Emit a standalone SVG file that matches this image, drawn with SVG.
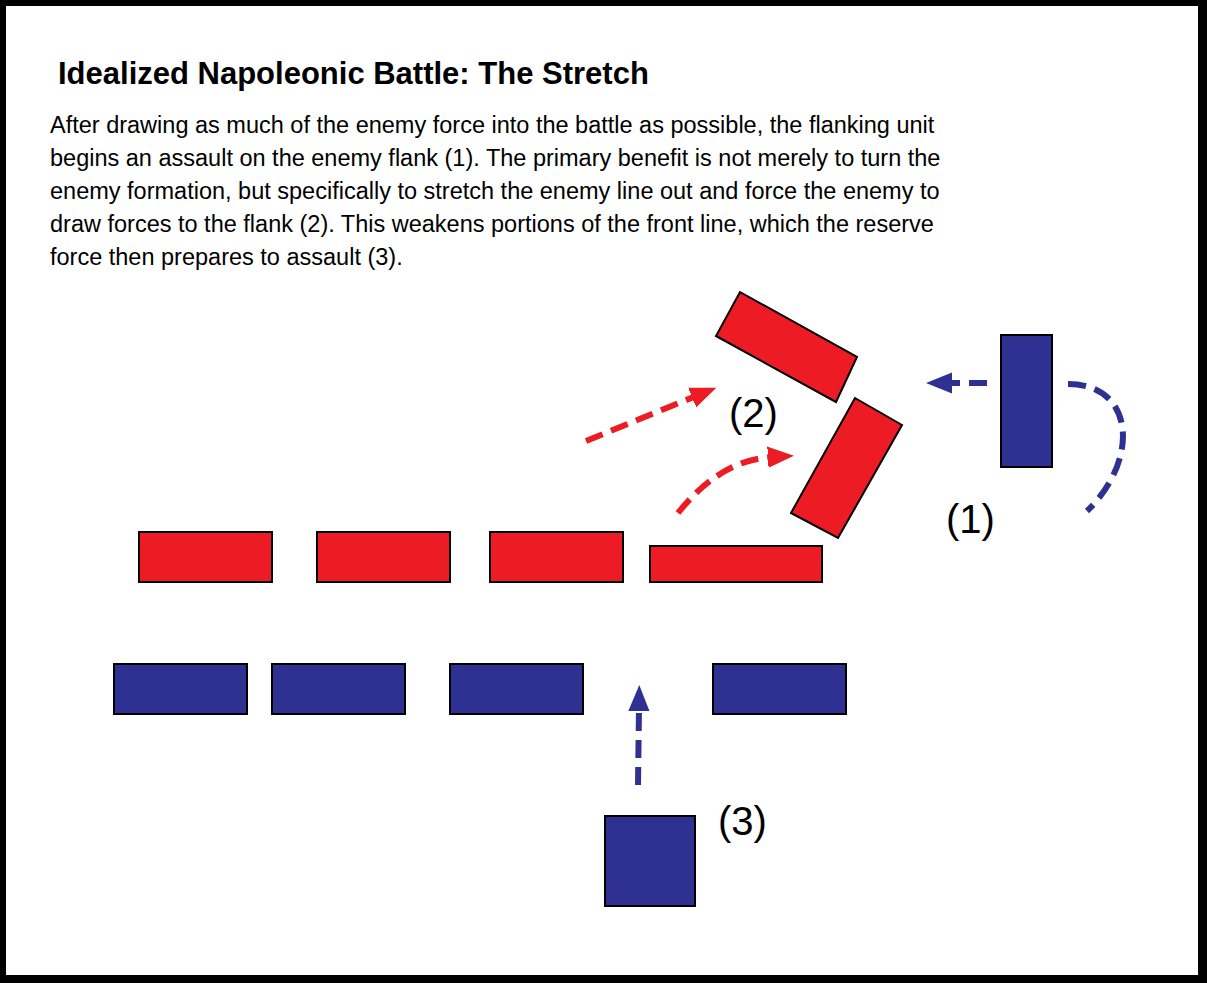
<svg xmlns="http://www.w3.org/2000/svg" width="1207" height="983" viewBox="0 0 1207 983">
<style>
.r{fill:#ed1c24;stroke:#000;stroke-width:2}
.b{fill:#2e3192;stroke:#000;stroke-width:2}
.t{font-family:"Liberation Sans",Arial,sans-serif;fill:#000}
.cr{fill:none;stroke:#ed1c24;stroke-width:6;stroke-dasharray:18 9}
.cb{fill:none;stroke:#2e3192;stroke-width:6;stroke-dasharray:18 9}
</style>
<defs>
<marker id="mr" markerUnits="userSpaceOnUse" markerWidth="30" markerHeight="30" refX="4" refY="15" orient="auto"><path d="M0,15 L-6,2 L26,15 L-6,28 Z" fill="#ed1c24"/></marker>
<marker id="mb" markerUnits="userSpaceOnUse" markerWidth="30" markerHeight="30" refX="4" refY="15" orient="auto"><path d="M0,15 L-6,2 L26,15 L-6,28 Z" fill="#2e3192"/></marker>
</defs>
<rect x="0" y="0" width="1207" height="983" fill="#000"/>
<rect x="6" y="6" width="1192" height="969" fill="#fff"/>
<text class="t" x="58" y="84" font-size="31" font-weight="bold">Idealized Napoleonic Battle: The Stretch</text>
<g class="t" font-size="23.5">
<text x="50" y="133">After drawing as much of the enemy force into the battle as possible, the flanking unit</text>
<text x="50" y="166">begins an assault on the enemy flank (1). The primary benefit is not merely to turn the</text>
<text x="50" y="199">enemy formation, but specifically to stretch the enemy line out and force the enemy to</text>
<text x="50" y="232">draw forces to the flank (2). This weakens portions of the front line, which the reserve</text>
<text x="50" y="265">force then prepares to assault (3).</text>
</g>
<g id="red1"><rect class="r" x="139" y="532" width="133" height="50"/></g>
<g id="red2"><rect class="r" x="317" y="532" width="133" height="50"/></g>
<g id="red3"><rect class="r" x="490" y="532" width="133" height="50"/></g>
<g id="red4"><rect class="r" x="650" y="546" width="172" height="36"/></g>
<g id="red5"><polygon class="r" points="740,292 857,357 836,402 716,336"/></g>
<g id="red6"><polygon class="r" points="855,398 902,425 838,538 791,513"/></g>
<g id="blue1"><rect class="b" x="114" y="664" width="133" height="50"/></g>
<g id="blue2"><rect class="b" x="272" y="664" width="133" height="50"/></g>
<g id="blue3"><rect class="b" x="450" y="664" width="133" height="50"/></g>
<g id="blue4"><rect class="b" x="713" y="664" width="133" height="50"/></g>
<g id="blue5"><rect class="b" x="1001" y="335" width="51" height="132"/></g>
<g id="blue6"><rect class="b" x="605" y="816" width="90" height="90"/></g>
<g id="connectors">
<path class="cr" d="M586,441 L696,396" marker-end="url(#mr)"/>
<path class="cr" d="M678,513 Q720,460 772,457" marker-end="url(#mr)"/>
<path class="cb" d="M987,383 L948,383" marker-end="url(#mb)"/>
<path class="cb" d="M1068,384 C1135,384 1140,460 1087,511"/>
<path class="cb" d="M638,785 L639,707" marker-end="url(#mb)"/>
</g>
<g class="t" font-size="40">
<text x="729" y="427">(2)</text>
<text x="946" y="533">(1)</text>
<text x="718" y="835">(3)</text>
</g>
</svg>
